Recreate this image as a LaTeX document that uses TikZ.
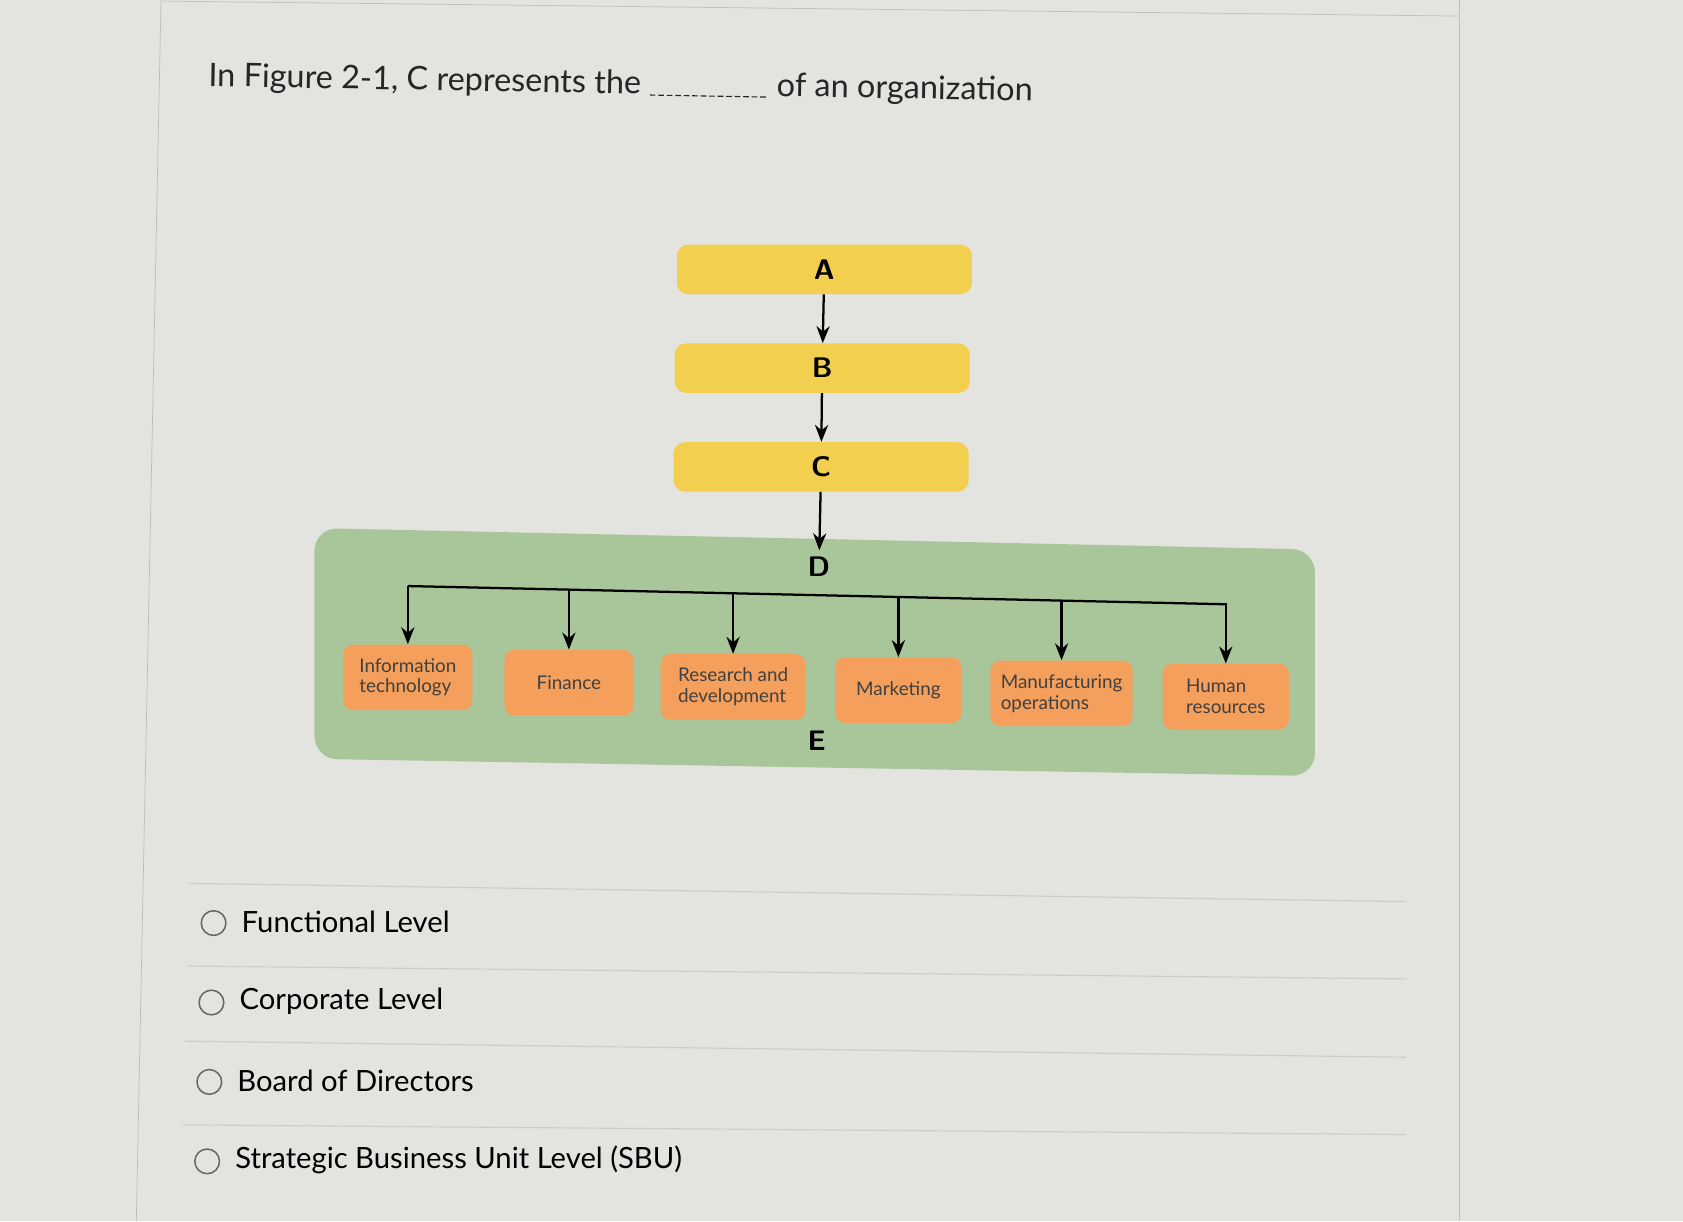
\documentclass[tikz,border=0pt]{standalone}
\usepackage{fontspec}
\setmainfont{Lato}
\usetikzlibrary{arrows.meta}
\definecolor{bg}{HTML}{E3E3E0}
\definecolor{ylw}{HTML}{F2CF4E}
\definecolor{grn}{HTML}{A8C69A}
\definecolor{org}{HTML}{F4A05C}
\begin{document}
\begin{tikzpicture}[x=0.02cm,y=-0.02cm,
  lvl/.style={fill=ylw,rounded corners=6pt,minimum width=5.5cm,minimum height=0.92cm,font=\bfseries\fontsize{15}{15}\selectfont\sffamily},
  fn/.style={fill=org,rounded corners=5pt,minimum height=1.22cm,font=\fontsize{10}{11}\selectfont,text=black!75,align=left},
  arr/.style={-{Stealth[length=9pt,width=7pt]},line width=1.2pt},
  opt/.style={anchor=west,font=\fontsize{15.5}{16}\selectfont},
  sep/.style={draw=black!20,line width=0.6pt}]
\fill[bg] (0,0) rectangle (1568,1138);
\useasboundingbox (0,0) rectangle (1568,1138);
\draw[black!25] (150,0) -- (127,1138);
\draw[black!25] (1360,0) -- (1360,1138);
\draw[black!25] (150,1) -- (1360,15);
\node[anchor=west,font=\fontsize{17.2}{18}\selectfont,text=black!85,rotate=-1] (q) at (188,72) {In Figure 2-1, C represents the \tikz[baseline]{\draw[dashed,dash pattern=on 3pt off 1.5pt,line width=0.6pt] (0,-0.5pt) -- (2.2cm,-0.5pt);} of an organization};
\fill[grn,rounded corners=12pt] (293,492) -- (1225,512) -- (1225,723) -- (293,707) -- cycle;
\node[lvl] (A) at (768,251) {A};
\node[lvl] (B) at (766,343) {B};
\node[lvl] (C) at (765,435) {C};
\node[font=\bfseries\fontsize{15}{15}\selectfont\sffamily] (D) at (763,528) {D};
\node[font=\bfseries\fontsize{15}{15}\selectfont\sffamily] (E) at (761,690) {E};
\draw[arr] (A) -- (B);
\draw[arr] (B) -- (C);
\draw[arr] (C) -- (D);
\node[fn,minimum width=2.4cm] (f1) at (380,631) {Information\\technology};
\node[fn,minimum width=2.4cm] (f2) at (530,636) {Finance};
\node[fn,minimum width=2.7cm] (f3) at (683,640) {Research and\\development};
\node[fn,minimum width=2.35cm] (f4) at (837,643) {Marketing};
\node[fn,minimum width=2.65cm] (f5) at (989,646) {Manufacturing\\operations};
\node[fn,minimum width=2.35cm] (f6) at (1142,649) {Human\\resources};
\coordinate (L) at (380,546);
\coordinate (R) at (1143,563);
\draw[line width=1.2pt] (L) -- (R);
\foreach \i/\x/\y in {1/380/546,2/530/549,3/683/553,4/837/556,5/989/560,6/1142/563}{
  \coordinate (b\i) at (\x,\y);
  \draw[arr] (b\i) -- (f\i.north);
}
\draw[sep] (175,823) -- (1310,840);
\draw[sep] (175,900) -- (1310,912);
\draw[sep] (172,970) -- (1310,985);
\draw[sep] (170,1048) -- (1310,1057);
\foreach \n/\x/\y/\t in {o1/199/860/Functional Level,o2/197/934/Corporate Level,o3/195/1008/Board of Directors,o4/193/1082/Strategic Business Unit Level (SBU)}{
  \node[circle,draw=black!60,line width=0.8pt,minimum size=0.46cm,inner sep=0] (c\n) at (\x,\y) {};
  \node[opt] (t\n) at (\x+20,\y-1) {\t};
}
\end{tikzpicture}
\end{document}
